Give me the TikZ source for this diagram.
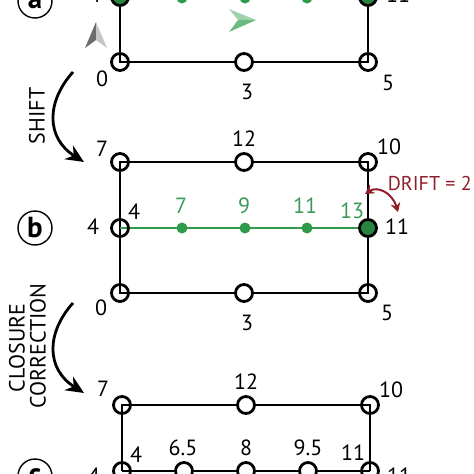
\documentclass[tikz,border=0pt]{standalone}
\usepackage{fontspec}
\setmainfont{PT Sans}
\usetikzlibrary{arrows.meta}
\definecolor{grn}{HTML}{2E9B4A}
\definecolor{grnt}{HTML}{3A9A55}
\definecolor{driftc}{HTML}{8E1F2A}
\begin{document}
\begin{tikzpicture}[x=1pt,y=-1pt, font=\fontsize{22}{26}\selectfont,
 stn/.style={circle,draw,line width=2.8pt,minimum size=17pt,inner sep=0pt},
 mid/.style={stn,fill=white},
 gdot/.style={circle,fill=grn,minimum size=11pt,inner sep=0pt},
 gstn/.style={stn,fill=grn!85!black},
 edge/.style={line width=1.7pt},
 gedge/.style={grn,line width=1.7pt},
 lbl/.style={inner sep=0pt},
 glbl/.style={lbl,text=grnt},
 panel/.style={circle,draw,line width=1.4pt,minimum size=34pt,inner sep=0pt,font=\fontsize{29}{29}\selectfont\bfseries},
 bendarrow/.style={line width=2.8pt,-{Stealth[length=18pt,width=16pt]}},
 driftarrow/.style={driftc,line width=2pt,{Stealth[length=9pt,width=10pt]}-{Stealth[length=9pt,width=10pt]}}
]
\useasboundingbox (0,0) rectangle (474,474);
\clip (0,0) rectangle (474,474);
% ---------- panel a ----------
\coordinate (a4) at (120,-3);
\coordinate (a11) at (368,-3);
\coordinate (a0) at (120,62);
\coordinate (a3) at (244,62);
\coordinate (a5) at (368,62);
\draw[edge] (a4) -- (a0) -- (a3) -- (a5) -- (a11);
\draw[gedge] (a4) -- (a11);
\node[gdot] (ag1) at (182,-2) {};
\node[gdot] (ag2) at (245,-2) {};
\node[gdot] (ag3) at (307,-2) {};
\node[gstn] (na4) at (a4) {};
\node[gstn] (na11) at (a11) {};
\node[stn] (na0) at (a0) {};
\node[mid] (na3) at (a3) {};
\node[stn] (na5) at (a5) {};
\node[lbl] (la4) at (95,-5) {4};
\node[lbl] (la11) at (398,-5) {11};
\node[lbl] (la0) at (102,79) {0};
\node[lbl] (la3) at (247,92) {3};
\node[lbl] (la5) at (388,83) {5};
\node[panel] (pa) at (35,1) {a};
% direction markers
\fill[gray!85!black] (96,22) -- (85,48) -- (96,40) -- cycle;
\fill[gray!45] (96,22) -- (107,48) -- (96,40) -- cycle;
\fill[grn!45] (256,20) -- (229,9) -- (238,20) -- cycle;
\fill[grn!70] (256,20) -- (229,32) -- (238,20) -- cycle;
% ---------- shift arrow ----------
\coordinate (s1) at (73,72);
\coordinate (s2) at (84,162);
\draw[bendarrow] (s1) .. controls (46,102) and (46,138) .. (s2);
\node[lbl,rotate=90] (shift) at (37,116) {SHIFT};
% ---------- panel b ----------
\coordinate (b7) at (120,162);
\coordinate (b12) at (244,162);
\coordinate (b10) at (368,162);
\coordinate (b4) at (120,228);
\coordinate (b11) at (368,228);
\coordinate (b0) at (120,293);
\coordinate (b3) at (244,293);
\coordinate (b5) at (368,293);
\draw[edge] (b4) -- (b7) -- (b12) -- (b10) -- (b11) -- (b5) -- (b3) -- (b0) -- (b4);
\draw[gedge] (b4) -- (b11);
\node[gdot] (bg1) at (182,228) {};
\node[gdot] (bg2) at (245,228) {};
\node[gdot] (bg3) at (307,228) {};
\node[stn] (nb7) at (b7) {};
\node[mid] (nb12) at (b12) {};
\node[stn] (nb10) at (b10) {};
\node[stn] (nb4) at (b4) {};
\node[gstn] (nb11) at (b11) {};
\node[stn] (nb0) at (b0) {};
\node[mid] (nb3) at (b3) {};
\node[stn] (nb5) at (b5) {};
\node[lbl] (lb7) at (102,149) {7};
\node[lbl] (lb12) at (244,139) {12};
\node[lbl] (lb10) at (389,147) {10};
\node[lbl] (lb4) at (93,227) {4};
\node[lbl] (lb4i) at (134,212) {4};
\node[glbl] (lg7) at (181,206) {7};
\node[glbl] (lg9) at (244,206) {9};
\node[glbl] (lg11) at (305,206) {11};
\node[glbl] (lg13) at (352,211) {13};
\node[lbl] (lb11) at (397,227) {11};
\node[lbl] (lb0) at (101,308) {0};
\node[lbl] (lb3) at (247,323) {3};
\node[lbl] (lb5) at (387,313) {5};
\node[panel] (pb) at (35,228) {b};
% drift
\coordinate (d1) at (365,194);
\coordinate (d2) at (398,212);
\draw[driftarrow] (d1) .. controls (377,186) and (392,192) .. (d2);
\node[lbl,text=driftc,anchor=east,font=\fontsize{20}{24}\selectfont] (drift) at (472,183) {DRIFT = 2};
% ---------- closure arrow ----------
\coordinate (k1) at (73,303);
\coordinate (k2) at (84,393);
\draw[bendarrow] (k1) .. controls (46,333) and (46,369) .. (k2);
\node[lbl,rotate=90] (clos) at (17,348) {CLOSURE};
\node[lbl,rotate=90] (corr) at (38,346) {CORRECTION};
% ---------- panel c ----------
\coordinate (c7) at (122,405);
\coordinate (c12) at (246,405);
\coordinate (c10) at (370,405);
\coordinate (c4) at (122,471);
\coordinate (c65) at (184,471);
\coordinate (c8) at (246,471);
\coordinate (c95) at (308,471);
\coordinate (c11) at (370,471);
\draw[edge] (c4) -- (c7) -- (c12) -- (c10) -- (c11);
\draw[edge] (c4) -- (c65) -- (c8) -- (c95) -- (c11);
\node[stn] (nc7) at (c7) {};
\node[mid] (nc12) at (c12) {};
\node[stn] (nc10) at (c10) {};
\node[stn] (nc4) at (c4) {};
\node[mid] (nc65) at (c65) {};
\node[mid] (nc8) at (c8) {};
\node[mid] (nc95) at (c95) {};
\node[stn] (nc11) at (c11) {};
\node[lbl] (lc7) at (103,389) {7};
\node[lbl] (lc12) at (246,382) {12};
\node[lbl] (lc10) at (391,390) {10};
\node[lbl] (lc4i) at (136,455) {4};
\node[lbl] (lc65) at (183,448) {6.5};
\node[lbl] (lc8) at (246,448) {8};
\node[lbl] (lc95) at (308,448) {9.5};
\node[lbl] (lc11i) at (353,453) {11};
\node[lbl] (lc11) at (399,476) {11};
\node[lbl] (lc4) at (94,476) {4};
\node[panel] (pc) at (35,476) {c};
\end{tikzpicture}
\end{document}
